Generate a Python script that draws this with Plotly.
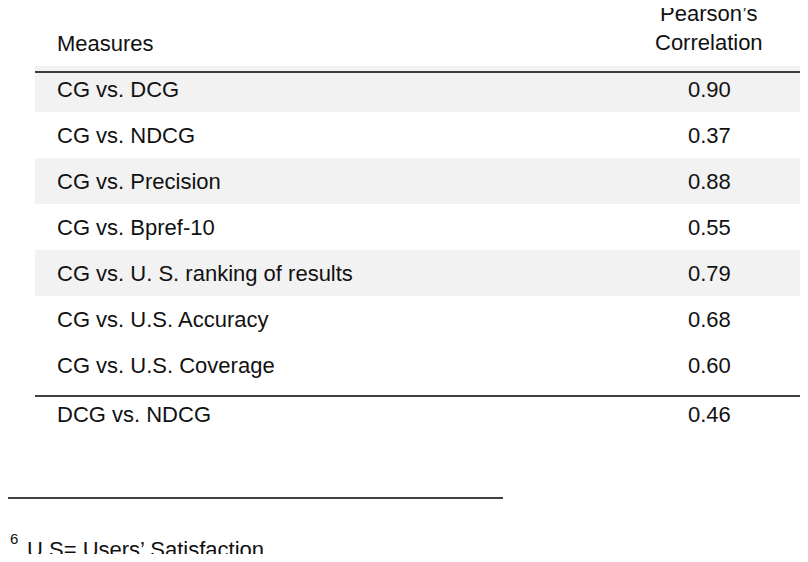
import plotly.graph_objects as go

measures = ["CG vs. DCG", "CG vs. NDCG", "CG vs. Precision", "CG vs. Bpref-10",
            "CG vs. U. S. ranking of results", "CG vs. U.S. Accuracy",
            "CG vs. U.S. Coverage", "DCG vs. NDCG"]
correlations = [0.90, 0.37, 0.88, 0.55, 0.79, 0.68, 0.60, 0.46]
header_left = "Measures"
header_right = "Pearson’s<br>Correlation"
footnote_mark = "6"
footnote_text = "U.S= Users’ Satisfaction"

OFF = 8
W, H = 808 - 2 * OFF, 562 - 2 * OFF
FS = 22
font = dict(family="Liberation Sans, Arial, sans-serif", size=FS, color="#111")
fig = go.Figure()
shapes = []
ann = []
row0, rh = 89, 46
for i, (m, c) in enumerate(zip(measures, correlations)):
    yc = row0 + rh * i + (3 if i == 7 else 0)
    if i % 2 == 0 and i < 6:
        shapes.append(dict(type="rect", x0=35, x1=810, y0=yc - rh / 2, y1=yc + rh / 2,
                           fillcolor="#f2f2f2", line_width=0, layer="below"))
    ann.append(dict(x=55, y=yc, text=m, xanchor="left", yanchor="middle", showarrow=False, font=font))
    ann.append(dict(x=709, y=yc, text=f"{c:.2f}", xanchor="center", yanchor="middle", showarrow=False, font=font))

ann.append(dict(x=55, y=43, text=header_left, xanchor="left", yanchor="middle", showarrow=False, font=font))
ann.append(dict(x=709, y=28, text=header_right, xanchor="center", yanchor="middle", showarrow=False, font=font))
ann.append(dict(x=8, y=538, text=footnote_mark, xanchor="left", yanchor="middle", showarrow=False,
                font=dict(family=font["family"], size=15, color="#111")))
ann.append(dict(x=25, y=549, text=footnote_text, xanchor="left", yanchor="middle", showarrow=False, font=font))

shapes.append(dict(type="line", x0=35, x1=810, y0=72, y1=72, line=dict(color="black", width=1.3)))
shapes.append(dict(type="line", x0=35, x1=810, y0=396, y1=396, line=dict(color="black", width=1.3)))
shapes.append(dict(type="line", x0=5, x1=503, y0=498, y1=498, line=dict(color="black", width=1.3)))

fig.update_layout(width=W, height=H, margin=dict(l=0, r=0, t=0, b=0),
                  paper_bgcolor="white", plot_bgcolor="white",
                  xaxis=dict(range=[OFF, OFF + W], visible=False, fixedrange=True),
                  yaxis=dict(range=[OFF + H, OFF], visible=False, fixedrange=True),
                  shapes=shapes, annotations=ann, showlegend=False)
fig.write_html("out.html")
